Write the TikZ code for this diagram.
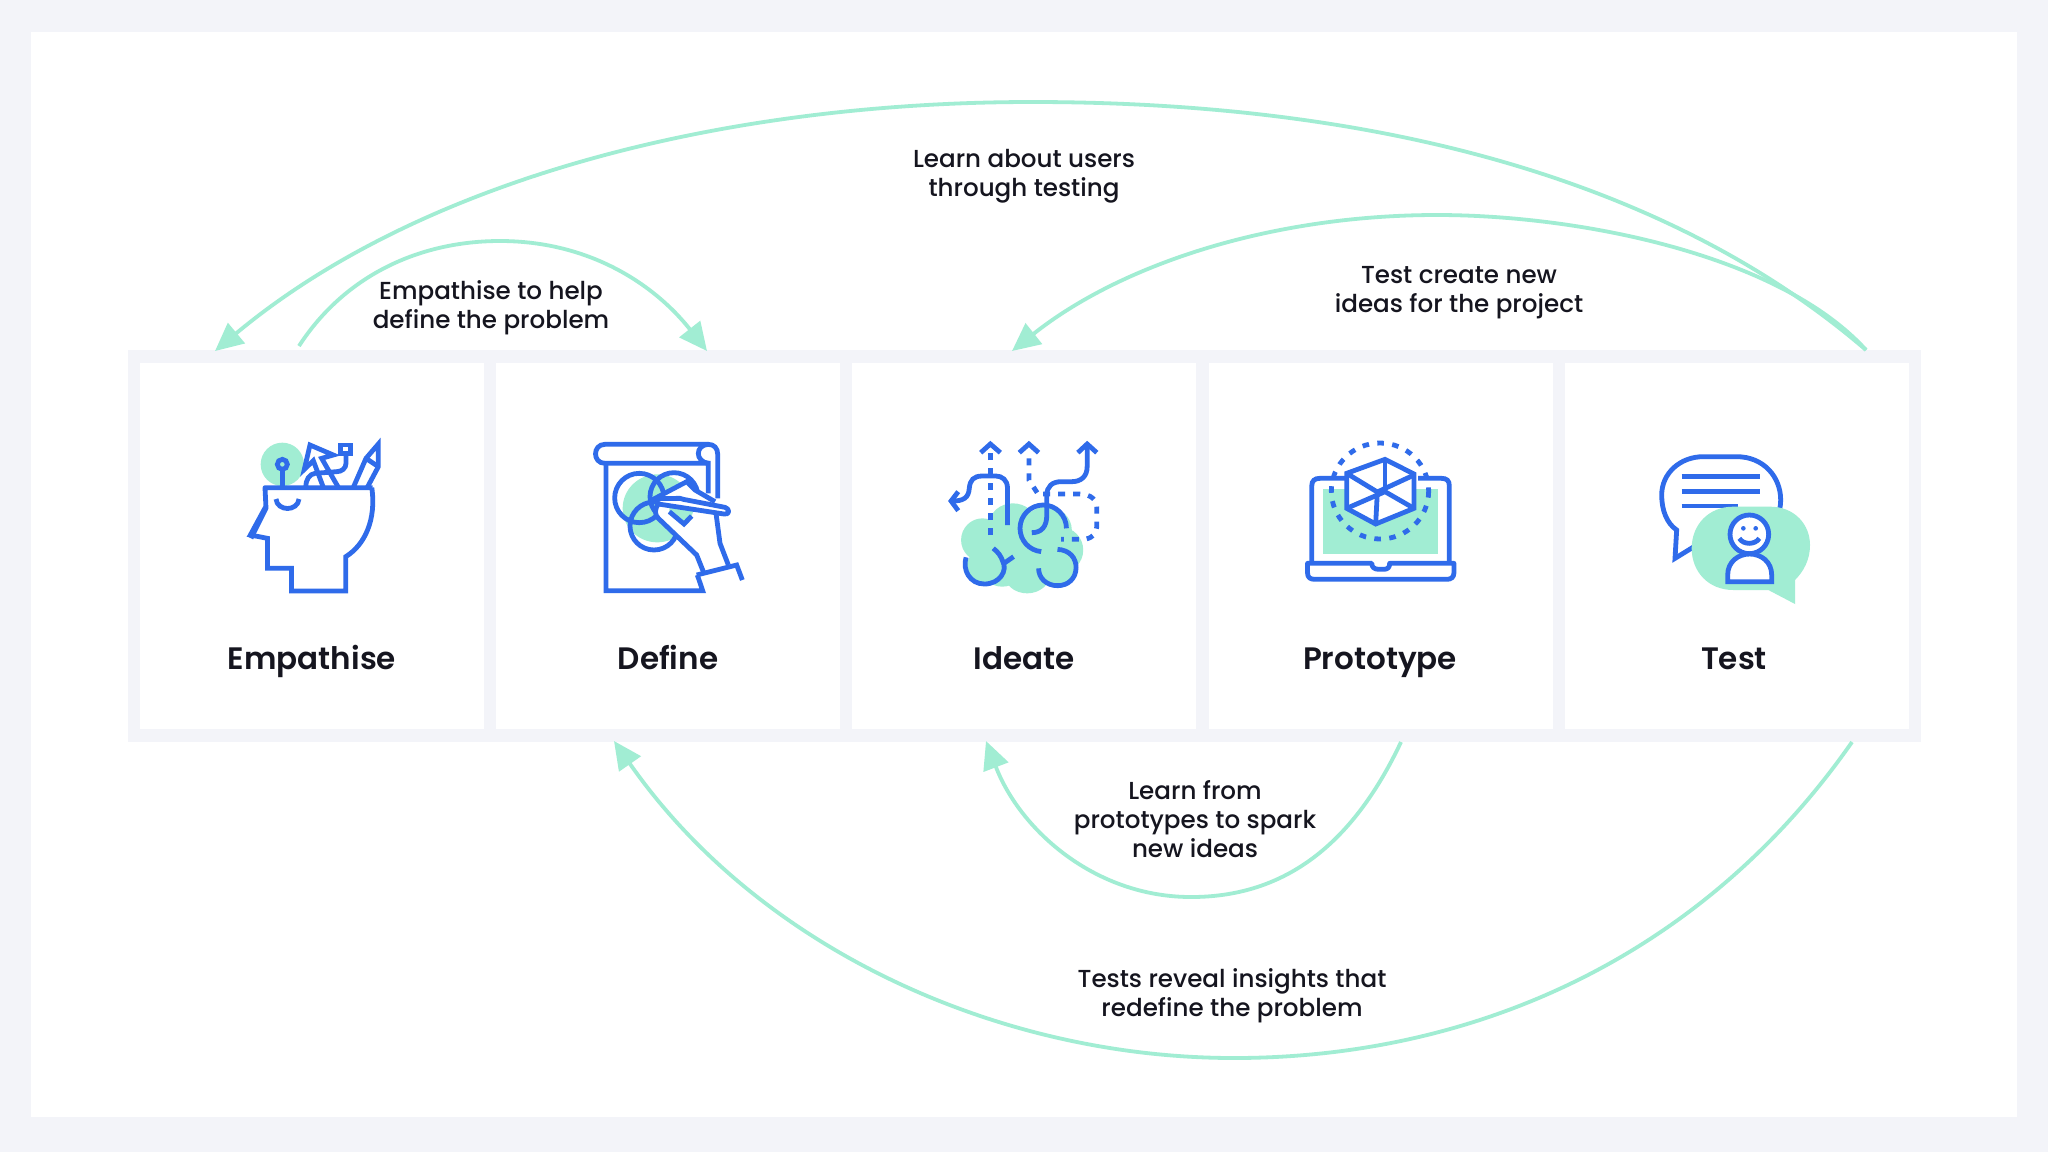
\documentclass[tikz,border=0pt]{standalone}
\usepackage{fontspec}
\setmainfont{Poppins}
\newfontfamily\capfont{Poppins Medium}
\newfontfamily\titlefont{Poppins SemiBold}
\usetikzlibrary{arrows.meta}
\definecolor{pagebg}{HTML}{F3F4F9}
\definecolor{mint}{HTML}{A1EDD3}
\definecolor{iconblue}{HTML}{2F6BEA}
\definecolor{ink}{HTML}{15151F}
\tikzset{
  x=0.5pt,y=-0.5pt,
  card/.style={draw=none,fill=white,inner sep=0,minimum width=172pt,minimum height=183pt},
  arc link/.style={draw=mint,line width=1.9pt,-{Triangle[length=14pt,width=13pt,fill=mint]}},
  caption/.style={font=\capfont\fontsize{12.3}{14.6}\selectfont,text=ink,align=center,inner sep=0},
  title/.style={font=\titlefont\fontsize{15.5}{18}\selectfont,text=ink,align=center,inner sep=0,anchor=base},
  icon/.style={draw=iconblue,line width=2.4pt,line join=miter},
  idash/.style={icon,dash pattern=on 3.5pt off 4pt},
}
\begin{document}
\begin{tikzpicture}
\useasboundingbox (0,0) rectangle (2048,1152);
\fill[pagebg] (0,0) rectangle (2048,1152);
\fill[white] (31,32) rectangle (2017,1117);
\node[fill=pagebg,inner sep=0,minimum width=896.5pt,minimum height=196pt] (bar) at (1024.5,546) {};
\node[card] (c1) at (312.3,546) {};
\node[card] (c2) at (668.3,546) {};
\node[card] (c3) at (1024,546) {};
\node[card] (c4) at (1381,546) {};
\node[card] (c5) at (1737,546) {};
\node[title] (t1) at (312,669) {Empathise};
\node[title] (t2) at (668,669) {Define};
\node[title] (t3) at (1024,669) {Ideate};
\node[title] (t4) at (1380,669) {Prototype};
\node[title] (t5) at (1734,669) {Test};
\node[caption] (l1) at (1024,176.6) {Learn about users\\through testing};
\node[caption] (l2) at (491,308) {Empathise to help\\define the problem};
\node[caption] (l3) at (1459,293) {Test create new\\ideas for the project};
\node[caption] (l4) at (1195,819) {Learn from\\prototypes to spark\\new ideas};
\node[caption] (l5) at (1232,995.6) {Tests reveal insights that\\redefine the problem};
% link ends
\coordinate (testTop) at (1866,350);
\coordinate (empTop) at (215,351);
\coordinate (ideTop) at (1012,351);
\coordinate (empOut) at (299,346);
\coordinate (defTop) at (707,351);
\coordinate (proBot) at (1401,742);
\coordinate (ideBot) at (986,741);
\coordinate (tesBot) at (1852,742);
\coordinate (defBot) at (614,741);
\draw[arc link] (testTop) .. controls (1680,190) and (1400,102) .. (1032,102) .. controls (720,102) and (420,180) .. (empTop);
\draw[arc link] (testTop) .. controls (1780,255) and (1580,215) .. (1437,215) .. controls (1270,215) and (1120,265) .. (ideTop);
\draw[arc link] (empOut) .. controls (345,275) and (420,241) .. (500,241) .. controls (590,241) and (655,285) .. (defTop);
\draw[arc link] (proBot) .. controls (1350,850) and (1280,897) .. (1191,897) .. controls (1095,897) and (1020,830) .. (ideBot);
\draw[arc link] (tesBot) .. controls (1700,960) and (1470,1058) .. (1234,1058) .. controls (1000,1058) and (760,950) .. (defBot);

% ---- Empathise head
\begin{scope}[shift={(240,430)},scale=0.33333]
\fill[mint] (127,103) circle [radius=65];
\draw[icon,line join=round] (398,173) -- (75,173) -- (78,235) -- (33,325);
\draw[icon] (108,207) .. controls (112,245) and (173,245) .. (177,207);
\draw[icon] (127,170) -- (127,118);
\draw[icon] (127,103) circle [radius=15];
\draw[icon] (250,172) -- (220,92) -- (193,118) -- (210,45) -- (280,75) -- (245,85) -- (295,172);
\draw[icon] (302,45) rectangle (331,71);
\draw[icon] (318,73) -- (318,100) .. controls (318,115) and (305,125) .. (290,125) -- (225,130) .. controls (208,132) and (197,150) .. (197,172);
\draw[icon] (340,172) -- (378,85) -- (415,42) -- (415,110) -- (382,172);
\draw[icon] (378,85) -- (415,110);
\end{scope}
\begin{scope}[shift={(220,420)},xscale=0.35714,yscale=0.33333]
\draw[icon] (425,203) .. controls (438,300) and (405,375) .. (352,410) -- (352,513) -- (200,513) -- (200,445) -- (133,445) -- (133,355) -- (85,345) -- (127,262);
\end{scope}

% ---- Define
\begin{scope}[shift={(580,430)},scale=0.33333]
\fill[mint] (232,235) ellipse [x radius=104,y radius=102];
\draw[icon] (352,435) -- (368,482) -- (78,482) -- (78,100);
\draw[icon] (385,190) -- (385,100) -- (75,100) .. controls (37,100) and (37,43) .. (75,43) -- (385,43) .. controls (402,43) and (413,55) .. (413,72) -- (413,205);
\draw[icon] (385,100) .. controls (345,95) and (345,45) .. (385,43);
\draw[icon] (178,204) circle [radius=74];
\draw[icon] (282,200) circle [radius=72];
\draw[icon] (222,288) circle [radius=72];
\fill[white] (235,222) -- (225,240) -- (235,265) -- (350,375) -- (372,430) -- (445,405) -- (420,340) -- (410,250) -- cycle;
\fill[white] (215,205) -- (320,155) -- (345,180) -- (405,215) -- (410,240) -- (235,222) -- cycle;
\fill[mint] (268,228) -- (342,238) -- (335,258) -- (312,282) -- (268,245) -- cycle;
\draw[icon] (212,212) -- (320,155) -- (345,180) -- (405,215);
\draw[icon,fill=white,line join=round] (225,206) -- (300,205) -- (310,208) -- (435,232) .. controls (450,236) and (450,256) .. (432,252) -- (235,222) -- cycle;
\draw[icon] (235,222) .. controls (222,240) and (225,255) .. (235,265) -- (350,375) -- (372,430);
\draw[icon] (408,250) -- (420,340) -- (445,405);
\draw[icon] (350,435) -- (470,405) -- (487,450);
\draw[icon] (268,245) -- (312,282) -- (335,258);
\end{scope}

% ---- Ideate
\begin{scope}[shift={(920,420)},xscale=0.35714,yscale=0.33333]
\fill[mint] (175,360) ellipse [x radius=60,y radius=65];
\fill[mint] (260,310) ellipse [x radius=65,y radius=60];
\fill[mint] (355,330) ellipse [x radius=70,y radius=70];
\fill[mint] (395,390) ellipse [x radius=62,y radius=68];
\fill[mint] (230,440) ellipse [x radius=60,y radius=60];
\fill[mint] (300,460) ellipse [x radius=65,y radius=60];
\fill[mint] (370,430) ellipse [x radius=60,y radius=65];
\fill[mint] (280,390) ellipse [x radius=130,y radius=100];
\fill[mint] (180,440) ellipse [x radius=50,y radius=50];
\fill[mint] (385,442) ellipse [x radius=50,y radius=50];
\draw[icon] (170,98) -- (197,72) -- (225,98);
\draw[idash] (197,345) -- (197,100);
\draw[icon] (245,315) -- (245,205) .. controls (245,180) and (230,168) .. (212,168) -- (175,168) .. controls (150,168) and (140,180) .. (138,205) .. controls (136,235) and (120,243) .. (90,243);
\draw[icon] (107,215) -- (87,243) -- (107,272);
\draw[icon] (278,98) -- (305,72) -- (332,98);
\draw[idash] (305,115) -- (305,180) -- (328,218);
\draw[idash] (345,222) -- (445,222) .. controls (480,222) and (495,240) .. (495,265) -- (495,320) .. controls (495,340) and (480,358) .. (455,358) -- (395,358);
\draw[icon] (442,98) -- (468,72) -- (495,98);
\draw[icon] (468,75) -- (468,140) .. controls (468,170) and (450,185) .. (425,185) -- (395,185) .. controls (370,185) and (355,200) .. (355,225) -- (355,285) .. controls (355,320) and (340,338) .. (313,338);
\draw[icon] (410,325) arc [start angle=0,end angle=-265,x radius=65,y radius=70];
\draw[icon] (129,412) .. controls (118,450) and (140,492) .. (180,492) .. controls (225,492) and (245,450) .. (232,425) .. controls (228,410) and (218,395) .. (205,385);
\draw[icon] (235,430) -- (262,410);
\draw[icon] (385,388) .. controls (420,390) and (437,415) .. (437,442) .. controls (437,475) and (415,497) .. (385,497) .. controls (355,497) and (332,475) .. (332,445);
\end{scope}

% ---- Prototype
\begin{scope}[shift={(920,420)},xscale=0.35714,yscale=0.33333]
\fill[mint] (1127,207) rectangle (1450,403);
\draw[icon] (1097,430) -- (1097,197) .. controls (1097,182) and (1105,175) .. (1120,175) -- (1190,175);
\draw[icon] (1395,175) -- (1460,175) .. controls (1475,175) and (1482,182) .. (1482,197) -- (1482,430);
\draw[icon,line join=round] (1085,430) -- (1265,430) .. controls (1265,442) and (1272,448) .. (1285,448) -- (1298,448) .. controls (1310,448) and (1315,442) .. (1315,430) -- (1495,430) -- (1495,458) .. controls (1495,472) and (1487,478) .. (1475,478) -- (1105,478) .. controls (1092,478) and (1085,472) .. (1085,458) -- cycle;
\end{scope}
\begin{scope}[shift={(1310,430)},scale=0.33333]
\draw[icon,dash pattern=on 3.3pt off 4.2pt] (210,183) ellipse [x radius=146,y radius=144];
\draw[icon,fill=white] (225,88) -- (312,132) -- (312,235) -- (197,282) -- (110,235) -- (110,130) -- cycle;
\draw[icon] (225,88) -- (225,172);
\draw[icon] (110,130) -- (202,186) -- (312,135);
\draw[icon] (202,186) -- (197,282);
\draw[icon] (110,235) -- (225,185) -- (312,235);
\end{scope}

% ---- Test icon
\begin{scope}[shift={(1640,430)},scale=0.33333]
\draw[icon,fill=white] (190,80) -- (290,80) .. controls (370,80) and (422,140) .. (422,210) .. controls (422,280) and (370,320) .. (290,330) -- (170,345) -- (105,385) -- (110,300) .. controls (80,280) and (65,240) .. (65,195) .. controls (65,130) and (120,80) .. cycle;
\draw[icon] (125,140) -- (360,140);
\draw[icon] (125,185) -- (360,185);
\draw[icon] (125,228) -- (295,228);
\fill[mint] (280,230) -- (390,230) .. controls (465,230) and (510,285) .. (510,345) .. controls (510,390) and (490,425) .. (465,450) -- (465,522) -- (385,480) -- (280,480) .. controls (205,480) and (155,425) .. (155,355) .. controls (155,285) and (205,230) .. cycle;
\draw[icon,fill=white] (328,313) circle [radius=58];
\fill[iconblue] (310,295) circle [radius=7];
\fill[iconblue] (347,295) circle [radius=7];
\draw[icon] (298,325) .. controls (310,345) and (345,345) .. (358,325);
\draw[icon,fill=white] (263,455) -- (263,435) .. controls (263,395) and (295,372) .. (329,372) .. controls (363,372) and (395,395) .. (395,435) -- (395,455) -- cycle;
\end{scope}
\end{tikzpicture}
\end{document}
